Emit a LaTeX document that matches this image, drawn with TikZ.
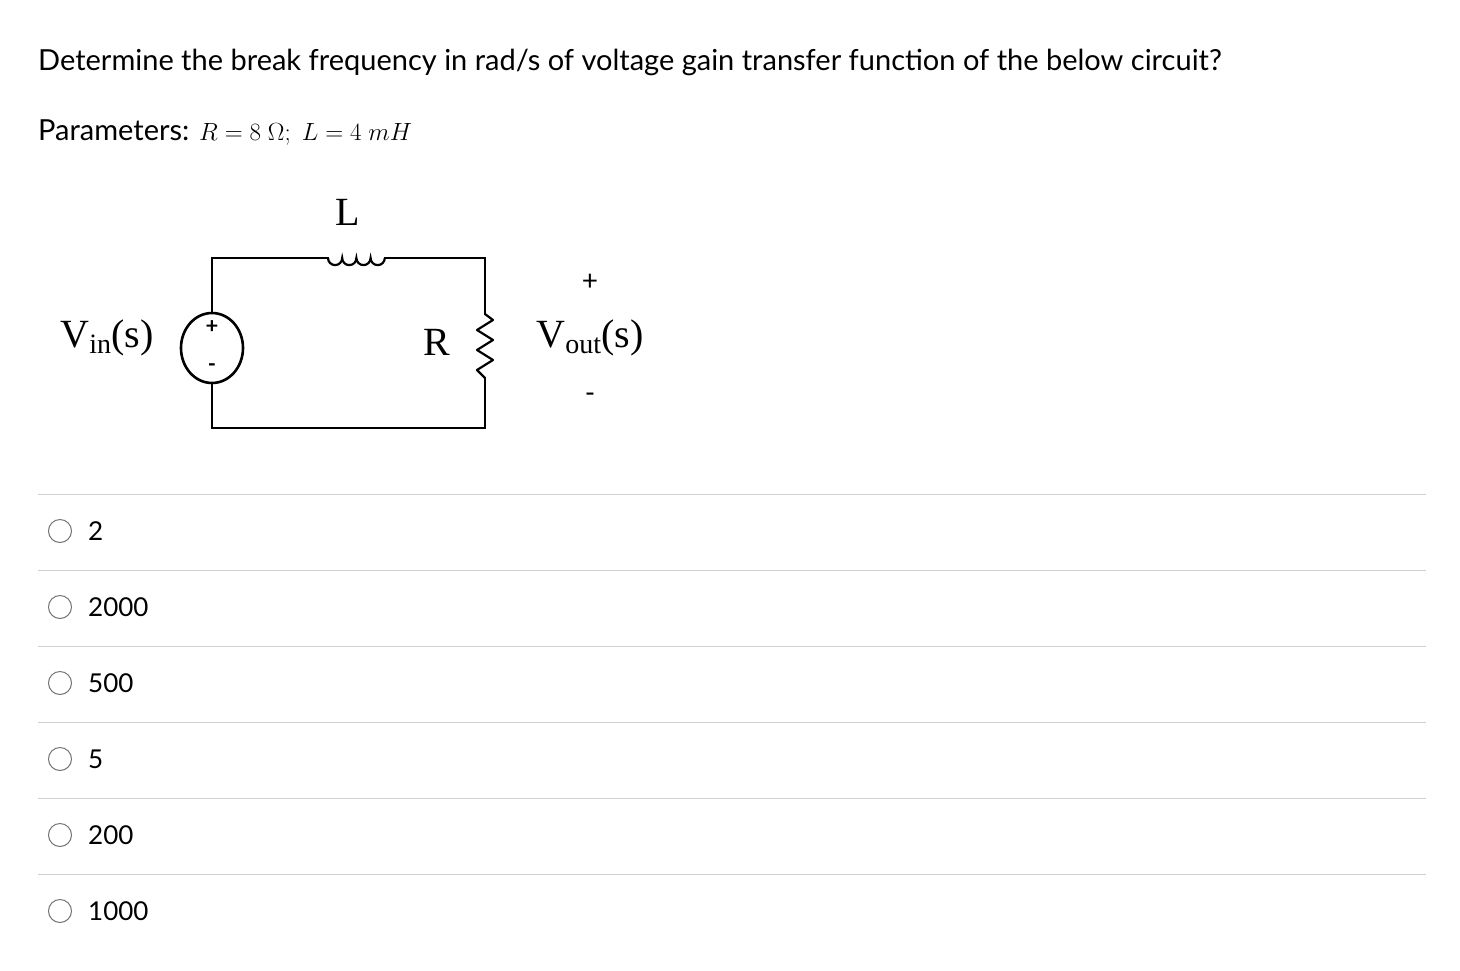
\documentclass[tikz,border=0pt]{standalone}
\usepackage{fontspec}
\usetikzlibrary{shapes.geometric}
\setmainfont{Lato}
\newfontfamily\serifx{Liberation Serif}
\begin{document}
\begin{tikzpicture}[x=1pt,y=-1pt,
  wire/.style={line width=2.6pt,line cap=rect},
  sep/.style={draw=black!18,line width=1pt},
  radio/.style={draw=black!55,line width=1pt},
  qtext/.style={anchor=west,inner sep=0pt,font=\fontsize{29}{34}\selectfont},
  otext/.style={anchor=west,inner sep=0pt,font=\fontsize{26}{30}\selectfont},
  clab/.style={inner sep=0pt,font=\serifx\fontsize{40}{44}\selectfont}]
\useasboundingbox (0,0) rectangle (1460,970);
\node[qtext] (q) at (38,62) {Determine the break frequency in rad/s of voltage gain transfer function of the below circuit?};
\node[qtext] (p) at (38,133) {Parameters: $R=8\;\Omega;\;L=4\;mH$};
% circuit
\coordinate (tl) at (212,258); \coordinate (tr) at (485,258);
\coordinate (bl) at (212,428); \coordinate (br) at (485,428);
\node[draw,line width=2.6pt,ellipse,minimum width=62,minimum height=70,inner sep=0pt] (src) at (212,348) {};
\node[font=\bfseries\fontsize{22}{22}\selectfont,inner sep=0pt] (sp) at (212,327) {+};
\node[font=\bfseries\fontsize{22}{22}\selectfont,inner sep=0pt] (sm) at (212,368) {-};
\coordinate (la) at (328,258); \coordinate (lb) at (385,258);
\coordinate (ra) at (485,314); \coordinate (rb) at (485,378);
\draw[wire] (src.north) -- (tl) -- (la);
\draw[line width=2.2pt] (la) arc (180:0:7.1) arc (180:0:7.1) arc (180:0:7.1) arc (180:0:7.1);
\draw[wire] (lb) -- (tr) -- (ra);
\draw[line width=2.2pt,line join=round] (ra) -- ++(8,6) -- ++(-16,10) -- ++(16,10) -- ++(-16,10) -- ++(16,10) -- ++(-16,10) -- (rb);
\draw[wire] (rb) -- (br) -- (bl) -- (src.south);
\node[clab] (L) at (348,212) {L};
\node[clab] (R) at (437,342) {R};
\node[clab] (vin) at (107,338) {V\raisebox{-0.3ex}{\fontsize{28}{28}\selectfont in}(s)};
\node[clab] (vout) at (590,338) {V\raisebox{-0.3ex}{\fontsize{28}{28}\selectfont out}(s)};
\node[font=\fontsize{28}{28}\selectfont,inner sep=0pt] (vp) at (590,282) {+};
\node[font=\fontsize{28}{28}\selectfont,inner sep=0pt] (vm) at (590,398) {-};
% options
\foreach \y in {494,570,646,722,798,874} \draw[sep] (38,\y) -- (1426,\y);
\foreach \t [count=\i from 0] in {2,2000,500,5,200,1000}{
  \node[radio,circle,minimum size=23,inner sep=0pt] (r\i) at (60,531+76*\i) {};
  \node[otext] (o\i) at (88,531+76*\i) {\t};
}
\end{tikzpicture}
\end{document}
